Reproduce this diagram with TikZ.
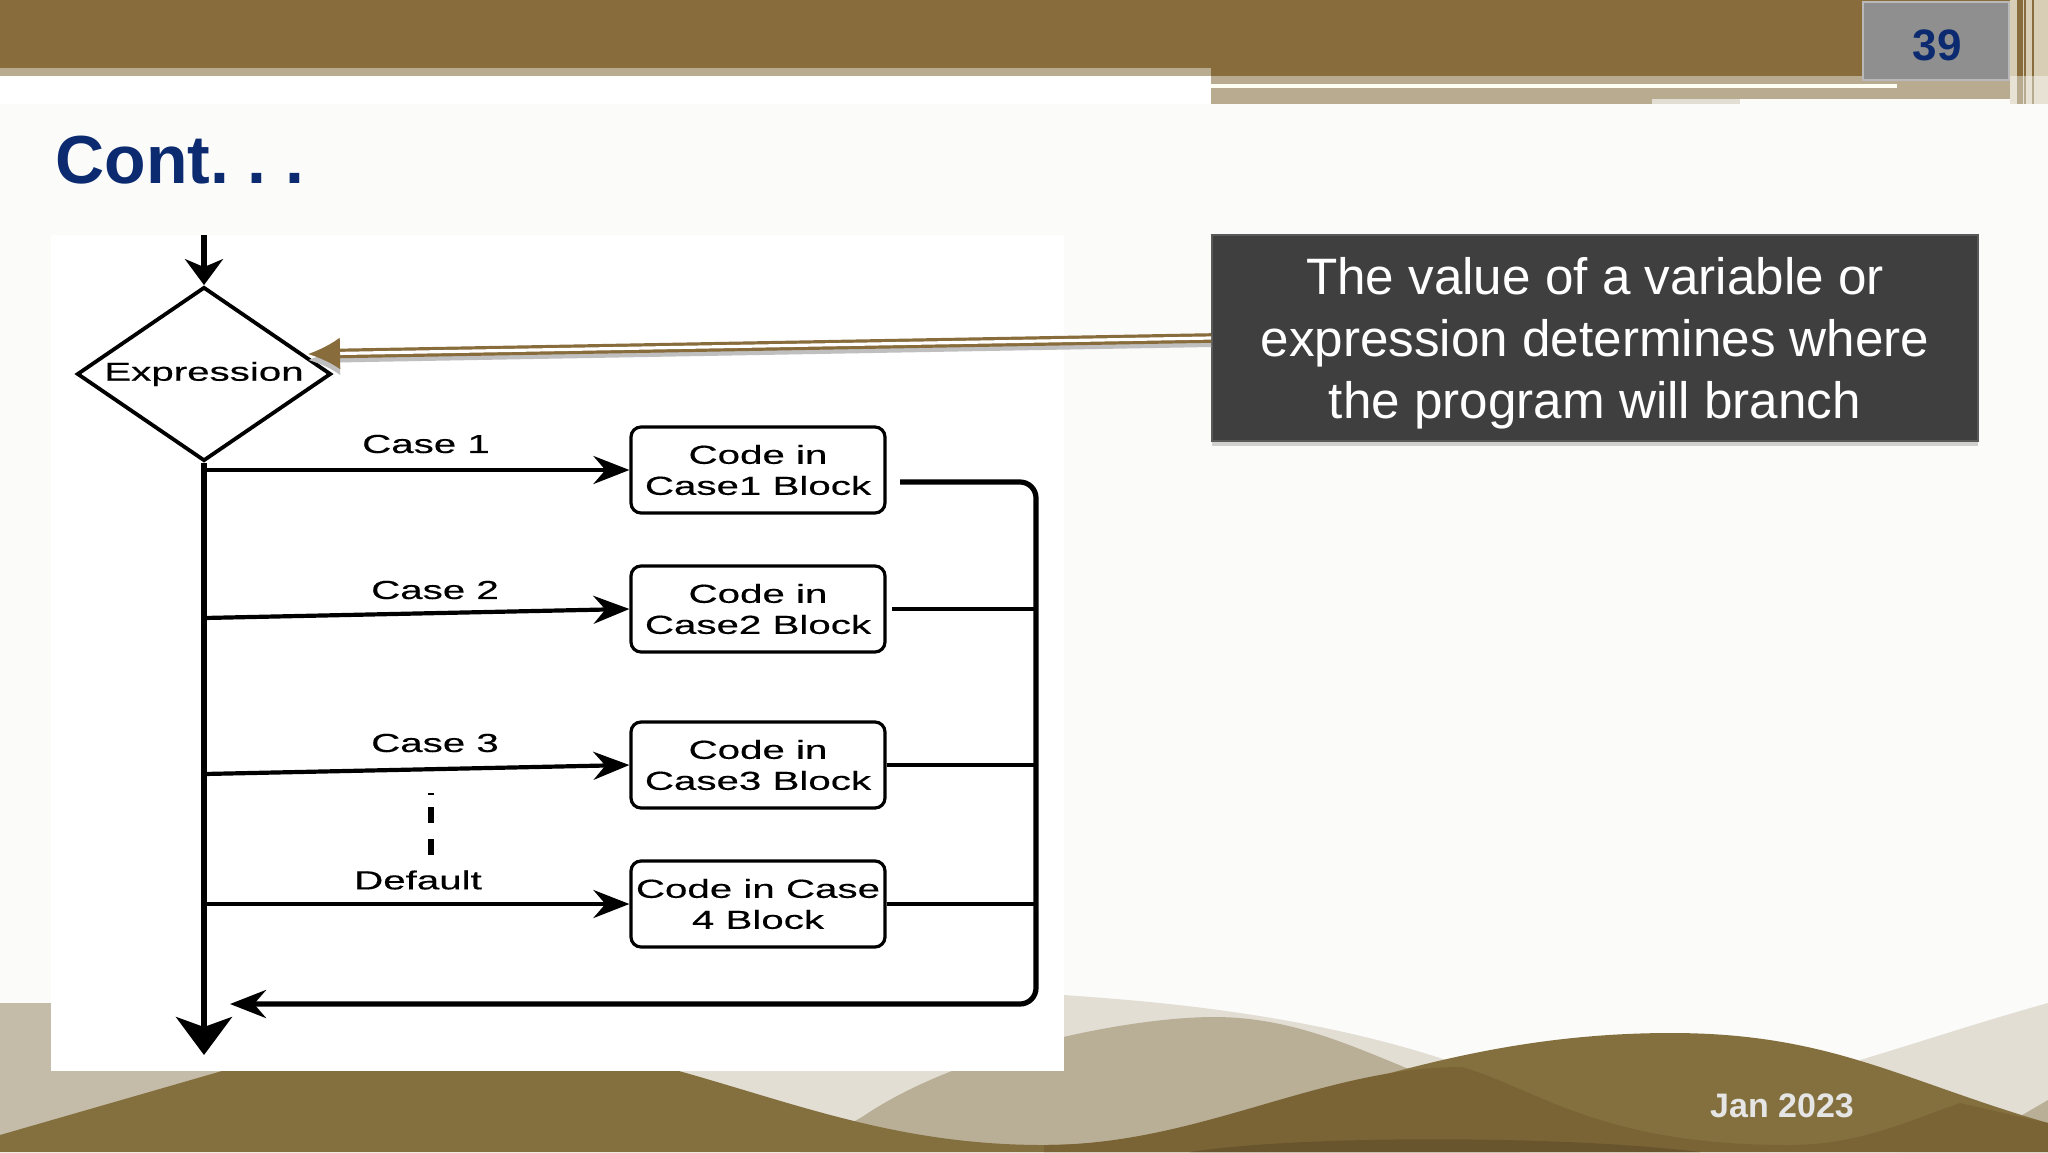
\documentclass[tikz,border=0pt]{standalone}
\usepackage{fontspec}
\setmainfont{Liberation Sans}
\newfontfamily\widefont[FakeStretch=1.55,FakeBold=0.4]{Liberation Sans}
\usetikzlibrary{arrows.meta,shapes.geometric,positioning,shadows}
\definecolor{slidebg}{HTML}{FBFBFA}
\definecolor{bandbrown}{HTML}{886C3B}
\definecolor{bandtan}{HTML}{B8AB90}
\definecolor{stripetan}{HTML}{D8CDB5}
\definecolor{stripepale}{HTML}{E8E2D5}
\definecolor{hillmist}{HTML}{E2DED4}
\definecolor{hillmid}{HTML}{B9AE96}
\definecolor{hillleft}{HTML}{C4BCA9}
\definecolor{hilldark}{HTML}{84703F}
\definecolor{hilldeep}{HTML}{7A6436}
\definecolor{titlenavy}{HTML}{0B2A6F}
\definecolor{calloutgray}{HTML}{3F3F3F}
\definecolor{pagegray}{HTML}{8F8F8F}
\tikzset{
  decision/.style = {draw, diamond, line width=1.9pt, aspect=1.44, inner sep=0pt, minimum width=127pt, minimum height=87pt, font=\widefont\fontsize{13}{15}\selectfont},
  block/.style    = {draw, rectangle, rounded corners=5pt, line width=1.6pt, align=center, minimum width=127pt, minimum height=43pt, inner sep=0pt, font=\widefont\fontsize{13}{15.5}\selectfont},
  caselabel/.style = {font=\widefont\fontsize{13}{15}\selectfont, inner sep=0pt},
  flow/.style     = {draw, line width=2.1pt, -{Stealth[length=18pt,width=14pt,inset=6pt]}},
  joinline/.style = {draw, line width=2.1pt},
  callout/.style  = {fill=calloutgray, draw=gray!70!black, line width=0.8pt, drop shadow={shadow xshift=0pt, shadow yshift=-2.5pt, opacity=0.35}, align=center, text=white, minimum width=383pt, minimum height=103pt, inner sep=0pt, font=\fontsize{25.6}{31}\selectfont}
}

\begin{document}
\frenchspacing
\begin{tikzpicture}[x=0.5pt,y=-0.5pt]
\useasboundingbox (0,0) rectangle (2048,1152);

% slide background and top bands
\fill[slidebg] (0,0) rectangle (2048,1152);
\fill[white] (0,76) rectangle (1211,104);
\fill[bandbrown] (0,0) rectangle (2048,76);
\fill[bandtan] (0,68) rectangle (1211,76);
\fill[bandtan] (1211,76) rectangle (2010,104);
\fill[white!95!yellow] (1211,84) rectangle (1897,88);
\fill[hillmist] (1652,99) rectangle (1740,104);
\fill[slidebg] (1740,99) rectangle (2010,104);
\fill[stripetan] (2010,0) rectangle (2048,76);
\fill[stripepale] (2010,76) rectangle (2048,104);
\foreach \xa/\xb in {2017/2023,2024/2026,2032/2034}
{
  \fill[bandbrown] (\xa,0) rectangle (\xb,76);
  \fill[bandtan] (\xa,76) rectangle (\xb,104);
}

% hills at the foot of the slide
\fill[hillmist] (600,1152) -- (600,990) -- (1064,995) .. controls (1130,1000) and (1300,1010) .. (1455,1063) -- (1520,1152) -- cycle;
\fill[hillmist] (2048,1003) .. controls (1980,1022) and (1920,1042) .. (1860,1060) -- (1900,1152) -- (2048,1152) -- cycle;
\fill[hillleft] (0,1003) rectangle (222,1140);
\fill[hillmid] (862,1117) .. controls (960,1050) and (1130,1017) .. (1214,1017) .. controls (1290,1017) and (1350,1045) .. (1416,1072) -- (1520,1152) -- (800,1152) -- cycle;
\fill[hillmid] (2048,1100) -- (2005,1125) -- (2048,1152) -- cycle;
\fill[hilldark] (0,1135) -- (222,1071) -- (679,1071) .. controls (800,1105) and (900,1145) .. (1044,1145) .. controls (1250,1145) and (1400,1033) .. (1671,1033) .. controls (1830,1033) and (1900,1080) .. (2048,1123) -- (2048,1152) -- (0,1152) -- cycle;
\fill[hilldeep] (1044,1145) .. controls (1200,1145) and (1320,1067) .. (1462,1067) .. controls (1540,1090) and (1600,1145) .. (1789,1145) .. controls (1860,1145) and (1910,1120) .. (1960,1103) -- (2048,1123) -- (2048,1152) -- (1044,1152) -- cycle;
\fill[hilldeep!85!black] (1190,1152) .. controls (1300,1135) and (1560,1135) .. (1700,1152) -- cycle;

% page number, title and date
\node[fill=pagegray, draw=gray!55, line width=1pt, minimum width=73pt, minimum height=39pt, inner sep=0pt] (pagebox) at (1936,41) {};
\node[text=titlenavy, font=\bfseries\fontsize{22}{24}\selectfont, inner sep=0pt] (pagenum) at (1937,45) {39};
\node[text=titlenavy, font=\bfseries\fontsize{34}{38}\selectfont, inner sep=0pt, anchor=west] (slidetitle) at (55,160) {Cont. . .};
\node[text=white!90!black, font=\bfseries\fontsize{17}{20}\selectfont, inner sep=0pt] (slidedate) at (1782,1106) {Jan 2023};

% white panel behind the flow chart
\fill[white] (51,235) rectangle (1064,1071);

% the decision and the code blocks
\node[decision] (expr) at (204,374) {\raisebox{-2pt}{Expression}};
\node[block] (b1) at (758,470) {Code in\\Case1 Block};
\begin{scope}[node distance=69.5pt]
\node[block, below of = b1] (b2) {Code in\\Case2 Block};
\node[block, below of = b2, yshift=-8.5pt] (b3) {Code in\\Case3 Block};
\node[block, below of = b3] (b4) {Code in Case\\4 Block};
\end{scope}

% free ends on the trunk and on the return line
\coordinate (top) at (204,235);
\coordinate (foot) at (204,1055);
\coordinate (t1) at (204,470);
\coordinate (t2) at (204,618);
\coordinate (t3) at (204,774);
\coordinate (t4) at (b4.west -| top);
\coordinate (r1) at (900,482);
\coordinate (r2) at (892,609);
\coordinate (corner1) at (1036,482);
\coordinate (corner2) at (1036,1004);
\coordinate (back) at (230,1004);
\coordinate (dota) at (431,793);
\coordinate (dotb) at (431,857);
\coordinate (exprtip) at (308,354);

\draw[flow, line width=2.8pt, -{Stealth[length=13pt,width=19pt,inset=4pt]}] (top) -- (expr.north);
\draw[flow, line width=2.8pt, -{Stealth[length=19pt,width=28pt,inset=5pt]}] (expr.south) -- (foot);
\draw[flow] (t1) -- (b1.west);
\draw[flow] (t2) -- (b2.west);
\draw[flow] (t3) -- (b3.west);
\draw[flow] (t4) -- (b4.west);
\draw[flow, line width=2.6pt] (r1) [rounded corners=8pt] -- (corner1) -- (corner2) -- (back);
\draw[joinline] (r2) -- (b2.east -| corner1);
\draw[joinline] (b3.east) -- (b3.east -| corner1);
\draw[joinline] (b4.east) -- (b4.east -| corner1);
\draw[line width=3.2pt, dash pattern=on 1pt off 6pt on 8pt off 8pt on 8pt off 20pt] (dota) -- (dotb);

\node[caselabel] (l1) at (426,444) {Case 1};
\node[caselabel] (l2) at (435,590) {Case 2};
\node[caselabel] (l3) at (435,743) {Case 3};
\node[caselabel] (l4) at (418,880) {Default};

% callout and its pointer
\node[callout] (note) at (1595,338) {\rule{0pt}{24pt}The value of a variable or\\expression determines where\\the program will branch};
\draw[draw=bandbrown, line width=1.6pt, double=white, double distance=1.6pt, -{Latex[length=16pt,width=16pt]},
  preaction={draw=black!25, line width=3pt, double=none, transform canvas={yshift=-3pt}}] (note.west) -- (exprtip);
\end{tikzpicture}
\end{document}
